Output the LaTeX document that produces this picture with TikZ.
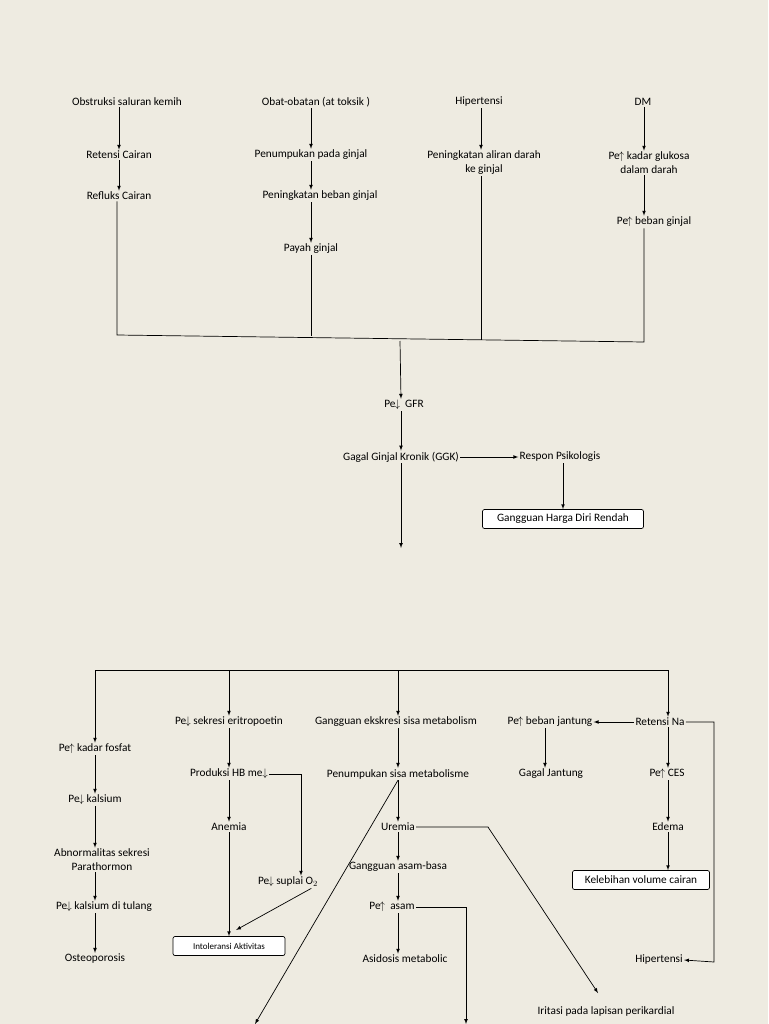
\documentclass[tikz,border=0pt]{standalone}
\usepackage{fontspec}
\setmainfont{Carlito}
\usetikzlibrary{positioning}
\definecolor{bg}{HTML}{EEEBE1}
\newcommand{\pu}{Pe\kern-1pt$\uparrow$}
\newcommand{\pd}{Pe\kern-1pt$\downarrow$}
\begin{document}
\begin{tikzpicture}[x=1pt,y=-1pt,font=\fontsize{11.3}{14}\selectfont,
    lbl/.style={inner sep=1pt,align=center},
    kotak/.style={draw,rounded corners=2pt,fill=white,inner sep=3pt,minimum height=19pt},
    arr/.style={->,>=latex},
    every path/.style={line width=0.7pt}]
        \fill[bg] (0,0) rectangle (768,1024);
        \useasboundingbox (0,0) rectangle (768,1024);
        % top
        \node[lbl] (obs) at (127,102) {Obstruksi saluran kemih};
        \node[lbl] (obat) at (316,102) {Obat-obatan (at toksik )};
        \node[lbl] (hip) at (479,102) {Hipertensi};
        \node[lbl] (dm) at (643,102) {DM};
        \node[lbl] (ret) at (119,155) {Retensi Cairan};
        \node[lbl] (pen) at (311,155) {Penumpukan pada ginjal};
        \node[lbl] (ali) at (484,163) {Peningkatan aliran darah\\ke ginjal};
        \node[lbl] (glu) at (649,163) {\pu\ kadar glukosa\\dalam darah};
        \node[lbl] (ref) at (119,196) {Refluks Cairan};
        \node[lbl] (beb) at (320,196) {Peningkatan beban ginjal};
        \node[lbl] (pay) at (311,249) {Payah ginjal};
        \node[lbl] (bgj) at (654,222) {\pu\ beban ginjal};
        \draw[arr] (obs.south -| ret) -- (ret);
        \draw[arr] (obat.south -| pen) -- (pen);
        \draw[arr] (hip.south -| 481,0) -- (ali.north -| 481,0);
        \draw[arr] (dm.south -| 644,0) -- (glu.north -| 644,0);
        \draw[arr] (ret) -- (ref);
        \draw[arr] (pen.south -| 311,0) -- (beb.north -| 311,0);
        \draw[arr] (beb.south -| 311,0) -- (pay);
        \draw[arr] (glu.south -| 644,0) -- (bgj.north -| 644,0);
        \coordinate (jl) at (117,335);
        \coordinate (jr) at (644,342);
        \draw (ref.south -| jl) -- (jl) -- (jr) -- (bgj.south -| jr);
        \draw (pay) -- (311,336);
        \draw (ali.south -| 481,0) -- (481,340);
        % middle
        \node[lbl] (gfr) at (404,405) {\pd\ \ GFR};
        \node[lbl] (ggk) at (401,457) {Gagal Ginjal Kronik (GGK)};
        \node[lbl] (psi) at (560,457) {Respon Psikologis};
        \node[kotak,minimum width=161pt] (hdr) at (563,519) {Gangguan Harga Diri Rendah};
        \coordinate (jm) at (400,341);
        \coordinate (ke) at (401,548);
        \draw[arr] (jm) -- (gfr.north -| 401,0);
        \draw[arr] (gfr.south -| 401,0) -- (ggk);
        \draw[arr] (ggk) -- (psi);
        \draw[arr] (psi.south -| 563,0) -- (hdr);
        \draw[arr] (ggk) -- (ke);
        % bottom
        \node[lbl] (fos) at (95,749) {\pu\ kadar fosfat};
        \node[lbl] (eri) at (229,722) {\pd\ sekresi eritropoetin};
        \node[lbl] (eks) at (396,722) {Gangguan ekskresi sisa metabolism};
        \node[lbl] (jan) at (550,722) {\pu\ beban jantung};
        \node[lbl] (na) at (660,722) {Retensi Na};
        \coordinate (h1) at (95,670);
        \coordinate (h2) at (668,670);
        \draw (h1) -- (h2);
        \draw[arr] (h1) -- (fos);
        \draw[arr] (229,670) -- (eri);
        \draw[arr] (398,670) -- (eks.north -| 398,0);
        \draw[arr] (h2) -- (na.north -| h2);
        \node[lbl] (kal) at (95,800) {\pd\ kalsium};
        \node[lbl] (abn) at (102,860) {Abnormalitas sekresi\\Parathormon};
        \node[lbl] (tul) at (104,907) {\pd\ kalsium di tulang};
        \node[lbl] (ost) at (95,959) {Osteoporosis};
        \draw[arr] (fos) -- (kal);
        \draw[arr] (kal) -- (abn.north -| 95,0);
        \draw[arr] (abn.south -| 95,0) -- (tul.north -| 95,0);
        \draw[arr] (tul.south -| 95,0) -- (ost);
        \node[lbl] (hb) at (229,774) {Produksi HB me$\downarrow$};
        \node[lbl] (ane) at (229,827) {Anemia};
        \node[lbl] (o2) at (288,882) {\pd\ suplai O$_2$};
        \node[kotak,minimum width=112pt] (int) at (229,946) {\fontsize{9}{10}\selectfont Intoleransi Aktivitas};
        \draw[arr] (eri) -- (hb);
        \draw[arr] (hb) -- (ane);
        \draw[arr] (hb.east) -- (301,774) -- (o2.north -| 301,0);
        \draw[arr] (ane) -- (int.north -| ane);
        \draw[arr] (o2.south east) ++(-8,0) -- (236,930);
        \node[lbl] (pns) at (398,774) {Penumpukan sisa metabolisme};
        \node[lbl] (ure) at (398,827) {Uremia};
        \node[lbl] (asb) at (398,867) {Gangguan asam-basa};
        \node[lbl] (asm) at (392,907) {\pu\ \ asam};
        \node[lbl] (asi) at (405,959) {Asidosis metabolic};
        \node[lbl] (iri) at (606,1011) {Iritasi pada lapisan perikardial};
        \coordinate (bl) at (255,1024);
        \coordinate (ba) at (466,1024);
        \draw[arr] (eks.south -| 398,0) -- (pns);
        \draw[arr] (pns) -- (ure);
        \draw[arr] (ure) -- (asb);
        \draw[arr] (asb) -- (asm.north -| 398,0);
        \draw[arr] (asm.south -| 398,0) -- (asi.north -| 398,0);
        \draw[arr] (pns.south) -- (bl);
        \draw[arr] (ure.east) -- (488,827) -- (598,993);
        \draw[arr] (asm.east) -- (466,907) -- (ba);
        \node[lbl] (gjt) at (551,774) {Gagal Jantung};
        \node[lbl] (ces) at (667,774) {\pu\ CES};
        \node[lbl] (ede) at (668,827) {Edema};
        \node[kotak,minimum width=137pt] (vol) at (641,880) {Kelebihan volume cairan};
        \node[lbl] (hip2) at (659,960) {Hipertensi};
        \draw[arr] (na) -- (jan);
        \draw[arr] (jan.south -| 545,0) -- (gjt.north -| 545,0);
        \draw[arr] (na.south -| h2) -- (ces.north -| h2);
        \draw[arr] (ces.south -| h2) -- (ede);
        \draw[arr] (ede) -- (vol.north -| h2);
        \draw[arr] (na.east) -- (714,722) -- (714,962) -- (hip2.east);
\end{tikzpicture}
\end{document}
